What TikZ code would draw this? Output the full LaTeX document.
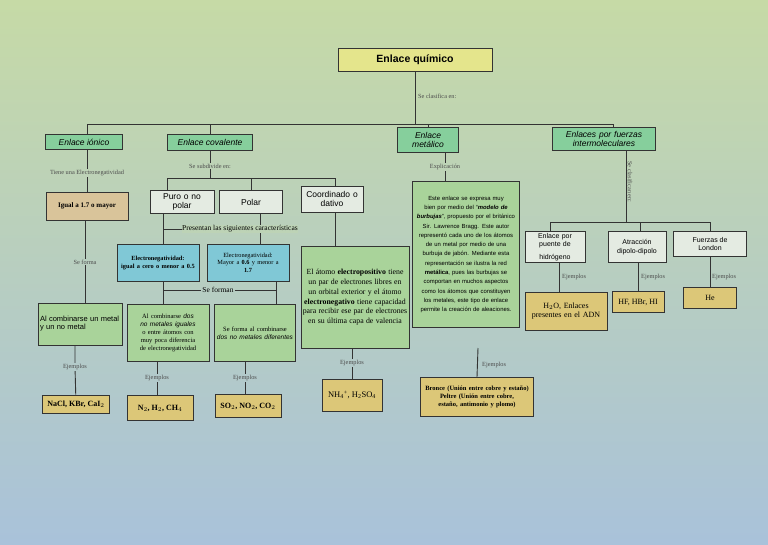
\documentclass[tikz,border=0pt]{standalone}
\usepackage{fontspec}
\setmainfont{Liberation Serif}
\setsansfont{Liberation Sans}
\definecolor{bgtop}{HTML}{C6DAA6}
\definecolor{bgbot}{HTML}{A9C2DA}
\definecolor{hdc}{HTML}{86CF9C}
\definecolor{lgc}{HTML}{A9D39A}
\definecolor{tanc}{HTML}{D9C49A}
\definecolor{blc}{HTML}{80C8D6}
\definecolor{yec}{HTML}{DCC778}
\definecolor{grc}{HTML}{E4EBE2}
\definecolor{ttc}{HTML}{E4E58C}
\begin{document}
\begin{tikzpicture}[x=1pt,y=-1pt,
 bx/.style={draw=black!80,line width=0.8pt,inner sep=1pt,align=center,font=\fontsize{7}{8}\selectfont},
 hd/.style={bx,fill=hdc,font=\sffamily\itshape\fontsize{8.5}{9.5}\selectfont},
 gr/.style={bx,fill=grc,font=\sffamily\fontsize{8.5}{9.5}\selectfont},
 tan/.style={bx,fill=tanc},
 lg/.style={bx,fill=lgc},
 bl/.style={bx,fill=blc},
 ye/.style={bx,fill=yec},
 lb/.style={font=\fontsize{6.3}{7}\selectfont,text=black!70,inner sep=1pt},
 ln/.style={line width=0.9pt,black!80}]
\shade[top color=bgtop, bottom color=bgbot] (0,0) rectangle (768,544);
\useasboundingbox (0,0) rectangle (768,544);
\hyphenpenalty=10000
% title
\node[bx,fill=ttc,minimum width=154pt,minimum height=23pt,font=\sffamily\bfseries\fontsize{10.5}{11}\selectfont] (t) at (415,60) {Enlace químico};
\node[lb,anchor=west] (l0) at (417,96) {Se clasifica en:};
\coordinate (hb) at (415,124);
\node[hd,minimum width=77pt,minimum height=15pt] (ion) at (84,142) {Enlace iónico};
\node[hd,minimum width=85pt,minimum height=16pt] (cov) at (210,142) {Enlace covalente};
\node[hd,minimum width=61pt,minimum height=25pt,text width=58pt] (met) at (428,140) {Enlace\\metálico};
\node[hd,minimum width=103pt,minimum height=23pt,text width=100pt] (fz) at (604,139) {Enlaces por fuerzas\\intermoleculares};
\draw[ln] (t.south) -- (hb);
\draw[ln] (87,124) -- (613,124);
\draw[ln] (87,124) -- (87,135);
\draw[ln] (210,124) -- (210,134);
\draw[ln] (428,124) -- (met.north);
\draw[ln] (613,124) -- (613,127);
% ionic
\node[lb] (l1) at (87,173) {Tiene una Electronegatividad};
\node[tan,minimum width=82pt,minimum height=28pt] (ig) at (87,206) {\bfseries\fontsize{7}{8}\selectfont Igual a 1.7 o mayor};
\node[lb] (l2) at (85,262) {Se forma};
\node[lg,minimum width=84pt,minimum height=42pt,text width=80pt,align=left] (am) at (80,324) {\sffamily\fontsize{7.5}{9}\selectfont Al combinarse un metal y un no metal};
\node[lb] (l3) at (75,367) {Ejemplos};
\node[ye,minimum width=67pt,minimum height=18pt] (e1) at (76,404) {\bfseries\fontsize{8}{9}\selectfont NaCl, KBr, CaI$_2$};
\draw[ln] (87,150) -- (l1) -- (ig);
\draw[ln] (85,220) -- (l2) -- (85,303);
\draw[ln] (75,345) -- (l3) -- (e1);
% covalent
\node[lb] (l4) at (210,166) {Se subdivide en:};
\draw[ln] (cov) -- (l4) -- (210,178);
\draw[ln] (167,178) -- (335,178);
\node[gr,minimum width=64pt,minimum height=23pt,text width=60pt] (pu) at (182,202) {Puro o no\\polar};
\node[gr,minimum width=63pt,minimum height=23pt] (po) at (251,202) {Polar};
\node[gr,minimum width=62pt,minimum height=26pt,text width=60pt] (co) at (332,199) {Coordinado o\\dativo};
\draw[ln] (167,178) -- (167,191);
\draw[ln] (251,178) -- (po.north);
\draw[ln] (335,178) -- (335,186);
\node[bl,minimum width=82pt,minimum height=37pt,text width=80pt] (b1) at (158,263) {\bfseries\fontsize{6.3}{7.5}\selectfont Electronegatividad:\\ igual a cero o menor a 0.5};
\node[bl,minimum width=82pt,minimum height=37pt,text width=80pt] (b2) at (248,263) {\fontsize{6.3}{7.5}\selectfont Electronegatividad:\\ Mayor a \textbf{0.6} y menor a\\ \textbf{1.7}};
\draw[ln] (163,214) -- (163,245);
\draw[ln] (260,214) -- (260,245);
\node[font=\fontsize{7.5}{8}\selectfont,fill=bgtop!70!bgbot,inner sep=0.5pt] (pr) at (240,229) {Presentan las siguientes características};
\draw[ln] (163,229) -- (pr.west);
\node[lg,minimum width=82pt,minimum height=57pt,text width=80pt] (c1) at (168,333) {\fontsize{6.5}{8}\selectfont Al combinarse \textsf{\itshape dos no metales iguales} o entre átomos con muy poca diferencia de electronegatividad};
\node[lg,minimum width=81pt,minimum height=57pt,text width=78pt] (c2) at (255,333) {\fontsize{6.5}{8.5}\selectfont Se forma al combinarse \textsf{\itshape dos no metales diferentes}};
\node[font=\fontsize{7.5}{8}\selectfont,inner sep=1pt] (sf) at (218,290) {Se forman};
\draw[ln] (163,282) -- (163,305);
\draw[ln] (163,290) -- (sf.west);
\draw[ln] (sf.east) -- (276,290);
\draw[ln] (276,282) -- (276,305);
\node[lb] (l5) at (157,378) {Ejemplos};
\node[lb] (l6) at (245,378) {Ejemplos};
\node[ye,minimum width=66pt,minimum height=25pt] (e2) at (160,408) {\bfseries\fontsize{8}{9}\selectfont N$_2$, H$_2$, CH$_4$};
\node[ye,minimum width=66pt,minimum height=23pt] (e3) at (248,406) {\bfseries\fontsize{8}{9}\selectfont SO$_2$, NO$_2$, CO$_2$};
\draw[ln] (157,362) -- (l5) -- (157,395);
\draw[ln] (245,362) -- (l6) -- (245,395);
\node[lg,minimum width=108pt,minimum height=102pt,text width=106pt,anchor=north] (dd) at (355,246) {\fontsize{7.8}{9.8}\selectfont El átomo \textbf{electropositivo} tiene un par de electrones libres en un orbital exterior y el átomo \textbf{electronegativo} tiene capacidad para recibir ese par de electrones en su última capa de valencia\\[10pt]};
\draw[ln] (335,212) -- (335,246);
\node[lb] (l7) at (352,363) {Ejemplos};
\node[ye,minimum width=60pt,minimum height=32pt] (e4) at (352,395) {\fontsize{8.5}{9}\selectfont NH\textsubscript{4}\textsuperscript{+}, H\textsubscript{2}SO\textsubscript{4}};
\draw[ln] (352,348) -- (l7) -- (e4);
% metallic
\node[lb] (l8) at (445,167) {Explicación};
\draw[ln] (445,152) -- (l8) -- (445,181);
\node[lg,minimum width=106pt,minimum height=146pt,text width=105pt,anchor=north,font=\sffamily\fontsize{5.9}{9.3}\selectfont] (mb) at (466,181) {Este enlace se expresa muy bien por medio del ``\textbf{\itshape modelo de burbujas}'', propuesto por el británico Sir. Lawrence Bragg. Este autor representó cada uno de los átomos de un metal por medio de una burbuja de jabón. Mediante esta representación se ilustra la red \textbf{metálica}, pues las burbujas se comportan en muchos aspectos como los átomos que constituyen los metales, este tipo de enlace permite la creación de aleaciones.};
\coordinate (mt) at (478,348);
\node[lb,anchor=west] (l9) at (481,365) {Ejemplos};
\node[ye,minimum width=113pt,minimum height=39pt,text width=110pt] (e5) at (477,397) {\bfseries\fontsize{6.5}{8.3}\selectfont Bronce (Unión entre cobre y estaño)\\Peltre (Unión entre cobre, estaño, antimonio y plomo)};
\draw[ln] (mt) -- (e5.north);
% fuerzas
\node[lb,rotate=-90] (l10) at (630,182) {Se clasifican en:};
\draw[ln] (626,150) -- (626,222);
\draw[ln] (550,222) -- (710,222);
\node[gr,minimum width=60pt,minimum height=31pt,font=\sffamily\fontsize{7}{8.5}\selectfont,text width=58pt] (h1) at (555,247) {Enlace por\\puente de\\[4pt]hidrógeno};
\node[gr,minimum width=58pt,minimum height=31pt,font=\sffamily\fontsize{7}{8.5}\selectfont] (h2) at (637,247) {Atracción\\dipolo-dipolo};
\node[gr,minimum width=73pt,minimum height=25pt,font=\sffamily\fontsize{7}{8.5}\selectfont] (h3) at (710,244) {Fuerzas de\\London};
\draw[ln] (550,222) -- (550,232);
\draw[ln] (640,222) -- (640,232);
\draw[ln] (710,222) -- (h3.north);
\node[ye,minimum width=82pt,minimum height=38pt,text width=80pt,font=\fontsize{8}{9.5}\selectfont] (e6) at (566,311) {H$_2$O, Enlaces presentes en el ADN};
\node[ye,minimum width=52pt,minimum height=21pt,font=\fontsize{8}{9.5}\selectfont] (e7) at (638,302) {HF, HBr, HI};
\node[ye,minimum width=53pt,minimum height=21pt,font=\fontsize{8}{9.5}\selectfont] (e8) at (710,298) {He};
\node[lb,anchor=west] at (561,277) {Ejemplos};
\node[lb,anchor=west] at (640,277) {Ejemplos};
\node[lb,anchor=west] at (711,277) {Ejemplos};
\draw[ln] (559,263) -- (559,292);
\draw[ln] (638,263) -- (e7.north);
\draw[ln] (710,257) -- (e8.north);
\end{tikzpicture}
\end{document}
